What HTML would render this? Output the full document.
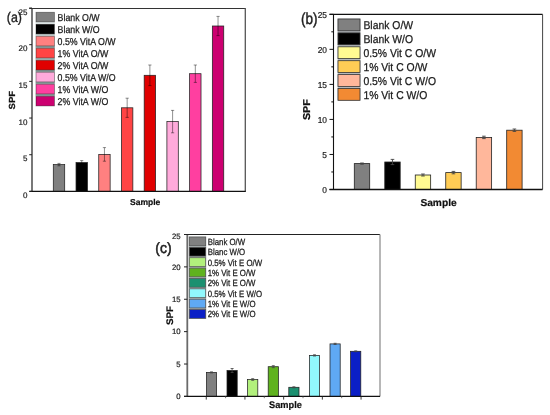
<!DOCTYPE html>
<html><head><meta charset="utf-8"><title>SPF bar charts</title><style>
html,body{margin:0;padding:0;background:#fff;}
svg{display:block;font-family:"Liberation Sans", Arial, sans-serif;text-rendering:geometricPrecision;}
</style></head><body>
<svg width="550" height="415" viewBox="0 0 550 415">
<rect width="550" height="415" fill="#fff"/>
<g id="pa">
<rect x="53.30" y="164.60" width="11.40" height="26.80" fill="#808080" stroke="#222" stroke-width="0.75"/>
<line x1="59.00" y1="163.40" x2="59.00" y2="165.80" stroke="rgba(0,0,0,0.55)" stroke-width="0.8"/>
<line x1="57.40" y1="163.40" x2="60.60" y2="163.40" stroke="rgba(0,0,0,0.55)" stroke-width="0.8"/>
<line x1="57.40" y1="165.80" x2="60.60" y2="165.80" stroke="rgba(0,0,0,0.55)" stroke-width="0.8"/>
<rect x="76.02" y="162.60" width="11.40" height="28.80" fill="#000000" stroke="#222" stroke-width="0.75"/>
<line x1="81.72" y1="160.60" x2="81.72" y2="164.60" stroke="rgba(0,0,0,0.55)" stroke-width="0.8"/>
<line x1="80.12" y1="160.60" x2="83.32" y2="160.60" stroke="rgba(0,0,0,0.55)" stroke-width="0.8"/>
<line x1="80.12" y1="164.60" x2="83.32" y2="164.60" stroke="rgba(0,0,0,0.55)" stroke-width="0.8"/>
<rect x="98.74" y="154.40" width="11.40" height="37.00" fill="#ff8080" stroke="#222" stroke-width="0.75"/>
<line x1="104.44" y1="147.60" x2="104.44" y2="161.20" stroke="rgba(0,0,0,0.55)" stroke-width="0.8"/>
<line x1="102.84" y1="147.60" x2="106.04" y2="147.60" stroke="rgba(0,0,0,0.55)" stroke-width="0.8"/>
<line x1="102.84" y1="161.20" x2="106.04" y2="161.20" stroke="rgba(0,0,0,0.55)" stroke-width="0.8"/>
<rect x="121.46" y="107.80" width="11.40" height="83.60" fill="#ff4444" stroke="#222" stroke-width="0.75"/>
<line x1="127.16" y1="98.20" x2="127.16" y2="117.40" stroke="rgba(0,0,0,0.55)" stroke-width="0.8"/>
<line x1="125.56" y1="98.20" x2="128.76" y2="98.20" stroke="rgba(0,0,0,0.55)" stroke-width="0.8"/>
<line x1="125.56" y1="117.40" x2="128.76" y2="117.40" stroke="rgba(0,0,0,0.55)" stroke-width="0.8"/>
<rect x="144.18" y="75.30" width="11.40" height="116.10" fill="#e00000" stroke="#222" stroke-width="0.75"/>
<line x1="149.88" y1="65.00" x2="149.88" y2="85.60" stroke="rgba(0,0,0,0.55)" stroke-width="0.8"/>
<line x1="148.28" y1="65.00" x2="151.48" y2="65.00" stroke="rgba(0,0,0,0.55)" stroke-width="0.8"/>
<line x1="148.28" y1="85.60" x2="151.48" y2="85.60" stroke="rgba(0,0,0,0.55)" stroke-width="0.8"/>
<rect x="166.90" y="121.60" width="11.40" height="69.80" fill="#ffaadb" stroke="#222" stroke-width="0.75"/>
<line x1="172.60" y1="110.40" x2="172.60" y2="132.80" stroke="rgba(0,0,0,0.55)" stroke-width="0.8"/>
<line x1="171.00" y1="110.40" x2="174.20" y2="110.40" stroke="rgba(0,0,0,0.55)" stroke-width="0.8"/>
<line x1="171.00" y1="132.80" x2="174.20" y2="132.80" stroke="rgba(0,0,0,0.55)" stroke-width="0.8"/>
<rect x="189.62" y="73.70" width="11.40" height="117.70" fill="#ff3fa0" stroke="#222" stroke-width="0.75"/>
<line x1="195.32" y1="65.00" x2="195.32" y2="82.40" stroke="rgba(0,0,0,0.55)" stroke-width="0.8"/>
<line x1="193.72" y1="65.00" x2="196.92" y2="65.00" stroke="rgba(0,0,0,0.55)" stroke-width="0.8"/>
<line x1="193.72" y1="82.40" x2="196.92" y2="82.40" stroke="rgba(0,0,0,0.55)" stroke-width="0.8"/>
<rect x="212.34" y="26.00" width="11.40" height="165.40" fill="#cc0070" stroke="#222" stroke-width="0.75"/>
<line x1="218.04" y1="16.40" x2="218.04" y2="35.60" stroke="rgba(0,0,0,0.55)" stroke-width="0.8"/>
<line x1="216.44" y1="16.40" x2="219.64" y2="16.40" stroke="rgba(0,0,0,0.55)" stroke-width="0.8"/>
<line x1="216.44" y1="35.60" x2="219.64" y2="35.60" stroke="rgba(0,0,0,0.55)" stroke-width="0.8"/>
<rect x="35.60" y="21.70" width="19.20" height="2.40" fill="#e6eeee"/>
<rect x="35.60" y="33.70" width="19.20" height="2.40" fill="#c4d0d0"/>
<rect x="35.60" y="45.70" width="19.20" height="2.40" fill="#8c9c9c"/>
<rect x="35.60" y="57.70" width="19.20" height="2.40" fill="#a4b4b4"/>
<rect x="35.60" y="69.70" width="19.20" height="2.40" fill="#8a9a98"/>
<rect x="35.60" y="81.70" width="19.20" height="2.40" fill="#8c9c9c"/>
<rect x="35.60" y="93.70" width="19.20" height="2.40" fill="#8c9c9c"/>
<rect x="36.00" y="12.30" width="18.40" height="9.60" fill="#808080" stroke="rgba(0,0,0,0.45)" stroke-width="0.8"/>
<text x="57.60" y="20.60" font-size="10.0" fill="#1a1a1a" stroke="#1a1a1a" stroke-width="0.25" textLength="42.05" lengthAdjust="spacingAndGlyphs">Blank O/W</text>
<rect x="36.00" y="24.30" width="18.40" height="9.60" fill="#000000" stroke="rgba(0,0,0,0.45)" stroke-width="0.8"/>
<text x="57.60" y="32.60" font-size="10.0" fill="#1a1a1a" stroke="#1a1a1a" stroke-width="0.25" textLength="42.05" lengthAdjust="spacingAndGlyphs">Blank W/O</text>
<rect x="36.00" y="36.30" width="18.40" height="9.60" fill="#ff8080" stroke="rgba(0,0,0,0.45)" stroke-width="0.8"/>
<text x="57.60" y="44.60" font-size="10.0" fill="#1a1a1a" stroke="#1a1a1a" stroke-width="0.25" textLength="58.04" lengthAdjust="spacingAndGlyphs">0.5% VitA O/W</text>
<rect x="36.00" y="48.30" width="18.40" height="9.60" fill="#ff4444" stroke="rgba(0,0,0,0.45)" stroke-width="0.8"/>
<text x="57.60" y="56.60" font-size="10.0" fill="#1a1a1a" stroke="#1a1a1a" stroke-width="0.25" textLength="50.70" lengthAdjust="spacingAndGlyphs">1% VitA O/W</text>
<rect x="36.00" y="60.30" width="18.40" height="9.60" fill="#e00000" stroke="rgba(0,0,0,0.45)" stroke-width="0.8"/>
<text x="57.60" y="68.60" font-size="10.0" fill="#1a1a1a" stroke="#1a1a1a" stroke-width="0.25" textLength="50.70" lengthAdjust="spacingAndGlyphs">2% VitA O/W</text>
<rect x="36.00" y="72.30" width="18.40" height="9.60" fill="#ffaadb" stroke="rgba(0,0,0,0.45)" stroke-width="0.8"/>
<text x="57.60" y="80.60" font-size="10.0" fill="#1a1a1a" stroke="#1a1a1a" stroke-width="0.25" textLength="58.04" lengthAdjust="spacingAndGlyphs">0.5% VitA W/O</text>
<rect x="36.00" y="84.30" width="18.40" height="9.60" fill="#ff3fa0" stroke="rgba(0,0,0,0.45)" stroke-width="0.8"/>
<text x="57.60" y="92.60" font-size="10.0" fill="#1a1a1a" stroke="#1a1a1a" stroke-width="0.25" textLength="50.70" lengthAdjust="spacingAndGlyphs">1% VitA W/O</text>
<rect x="36.00" y="96.30" width="18.40" height="9.60" fill="#cc0070" stroke="rgba(0,0,0,0.45)" stroke-width="0.8"/>
<text x="57.60" y="104.60" font-size="10.0" fill="#1a1a1a" stroke="#1a1a1a" stroke-width="0.25" textLength="50.70" lengthAdjust="spacingAndGlyphs">2% VitA W/O</text>
<line x1="32.00" y1="8.00" x2="32.00" y2="191.40" stroke="#6a6a6a" stroke-width="1.8"/>
<line x1="29.20" y1="8.50" x2="245.30" y2="8.50" stroke="#333" stroke-width="1.0"/>
<line x1="245.30" y1="8.00" x2="245.30" y2="191.40" stroke="#555" stroke-width="1.3"/>
<line x1="29.50" y1="191.40" x2="245.80" y2="191.40" stroke="#111" stroke-width="1.4"/>
<line x1="29.20" y1="191.40" x2="32.00" y2="191.40" stroke="#222" stroke-width="1"/>
<text x="27.40" y="198.10" font-size="8.0" text-anchor="end" fill="#222" stroke="#222" stroke-width="0.2">0</text>
<line x1="29.20" y1="154.72" x2="32.00" y2="154.72" stroke="#222" stroke-width="1"/>
<text x="27.40" y="161.42" font-size="8.0" text-anchor="end" fill="#222" stroke="#222" stroke-width="0.2">5</text>
<line x1="29.20" y1="118.04" x2="32.00" y2="118.04" stroke="#222" stroke-width="1"/>
<text x="27.40" y="124.74" font-size="8.0" text-anchor="end" fill="#222" stroke="#222" stroke-width="0.2">10</text>
<line x1="29.20" y1="81.36" x2="32.00" y2="81.36" stroke="#222" stroke-width="1"/>
<text x="27.40" y="88.06" font-size="8.0" text-anchor="end" fill="#222" stroke="#222" stroke-width="0.2">15</text>
<line x1="29.20" y1="44.68" x2="32.00" y2="44.68" stroke="#222" stroke-width="1"/>
<text x="27.40" y="51.38" font-size="8.0" text-anchor="end" fill="#222" stroke="#222" stroke-width="0.2">20</text>
<line x1="29.20" y1="8.00" x2="32.00" y2="8.00" stroke="#222" stroke-width="1"/>
<text x="27.40" y="14.70" font-size="8.0" text-anchor="end" fill="#222" stroke="#222" stroke-width="0.2">25</text>
<text x="6.80" y="22.10" font-size="14" fill="#222" stroke="#222" stroke-width="0.35" textLength="15.16" lengthAdjust="spacingAndGlyphs">(a)</text>
<text x="130.00" y="204.70" font-size="8.6" font-weight="bold" fill="#111" stroke="#111" stroke-width="0.2" textLength="30.34" lengthAdjust="spacingAndGlyphs">Sample</text>
<text transform="translate(14.90,100.20) rotate(-90)" font-size="8.8" text-anchor="middle" font-weight="bold" fill="#111" stroke="#111" stroke-width="0.25" textLength="18.48" lengthAdjust="spacingAndGlyphs">SPF</text>
</g>
<g id="pb">
<rect x="354.30" y="163.60" width="15.40" height="25.90" fill="#808080" stroke="#222" stroke-width="0.8"/>
<line x1="362.00" y1="163.00" x2="362.00" y2="164.20" stroke="#444" stroke-width="0.9"/>
<line x1="360.20" y1="163.00" x2="363.80" y2="163.00" stroke="#444" stroke-width="0.9"/>
<line x1="360.20" y1="164.20" x2="363.80" y2="164.20" stroke="#444" stroke-width="0.9"/>
<rect x="384.78" y="162.00" width="15.40" height="27.50" fill="#000000" stroke="#222" stroke-width="0.8"/>
<line x1="392.48" y1="159.40" x2="392.48" y2="164.60" stroke="#444" stroke-width="0.9"/>
<line x1="390.68" y1="159.40" x2="394.28" y2="159.40" stroke="#444" stroke-width="0.9"/>
<line x1="390.68" y1="164.60" x2="394.28" y2="164.60" stroke="#444" stroke-width="0.9"/>
<rect x="415.26" y="175.00" width="15.40" height="14.50" fill="#fffa92" stroke="#222" stroke-width="0.8"/>
<line x1="422.96" y1="174.00" x2="422.96" y2="176.00" stroke="#444" stroke-width="0.9"/>
<line x1="421.16" y1="174.00" x2="424.76" y2="174.00" stroke="#444" stroke-width="0.9"/>
<line x1="421.16" y1="176.00" x2="424.76" y2="176.00" stroke="#444" stroke-width="0.9"/>
<rect x="445.74" y="172.60" width="15.40" height="16.90" fill="#ffcc55" stroke="#222" stroke-width="0.8"/>
<line x1="453.44" y1="171.40" x2="453.44" y2="173.80" stroke="#444" stroke-width="0.9"/>
<line x1="451.64" y1="171.40" x2="455.24" y2="171.40" stroke="#444" stroke-width="0.9"/>
<line x1="451.64" y1="173.80" x2="455.24" y2="173.80" stroke="#444" stroke-width="0.9"/>
<rect x="476.22" y="137.40" width="15.40" height="52.10" fill="#ffb79b" stroke="#222" stroke-width="0.8"/>
<line x1="483.92" y1="136.20" x2="483.92" y2="138.60" stroke="#444" stroke-width="0.9"/>
<line x1="482.12" y1="136.20" x2="485.72" y2="136.20" stroke="#444" stroke-width="0.9"/>
<line x1="482.12" y1="138.60" x2="485.72" y2="138.60" stroke="#444" stroke-width="0.9"/>
<rect x="506.70" y="130.20" width="15.40" height="59.30" fill="#f28a33" stroke="#222" stroke-width="0.8"/>
<line x1="514.40" y1="129.00" x2="514.40" y2="131.40" stroke="#444" stroke-width="0.9"/>
<line x1="512.60" y1="129.00" x2="516.20" y2="129.00" stroke="#444" stroke-width="0.9"/>
<line x1="512.60" y1="131.40" x2="516.20" y2="131.40" stroke="#444" stroke-width="0.9"/>
<rect x="337.60" y="18.60" width="22.80" height="81.70" fill="#b4b8bc"/>
<rect x="338.00" y="19.00" width="22.00" height="11.80" fill="#808080" stroke="#333" stroke-width="0.8"/>
<text x="363.40" y="29.00" font-size="11.4" fill="#1a1a1a" stroke="#1a1a1a" stroke-width="0.25" textLength="49.70" lengthAdjust="spacingAndGlyphs">Blank O/W</text>
<rect x="338.00" y="32.90" width="22.00" height="11.80" fill="#000000" stroke="#333" stroke-width="0.8"/>
<text x="363.40" y="42.90" font-size="11.4" fill="#1a1a1a" stroke="#1a1a1a" stroke-width="0.25" textLength="49.70" lengthAdjust="spacingAndGlyphs">Blank W/O</text>
<rect x="338.00" y="46.80" width="22.00" height="11.80" fill="#fffa92" stroke="#333" stroke-width="0.8"/>
<text x="363.40" y="56.80" font-size="11.4" fill="#1a1a1a" stroke="#1a1a1a" stroke-width="0.25" textLength="72.63" lengthAdjust="spacingAndGlyphs">0.5% Vit C O/W</text>
<rect x="338.00" y="60.70" width="22.00" height="11.80" fill="#ffcc55" stroke="#333" stroke-width="0.8"/>
<text x="363.40" y="70.70" font-size="11.4" fill="#1a1a1a" stroke="#1a1a1a" stroke-width="0.25" textLength="63.95" lengthAdjust="spacingAndGlyphs">1% Vit C O/W</text>
<rect x="338.00" y="74.60" width="22.00" height="11.80" fill="#ffb79b" stroke="#333" stroke-width="0.8"/>
<text x="363.40" y="84.60" font-size="11.4" fill="#1a1a1a" stroke="#1a1a1a" stroke-width="0.25" textLength="72.63" lengthAdjust="spacingAndGlyphs">0.5% Vit C W/O</text>
<rect x="338.00" y="88.50" width="22.00" height="11.80" fill="#f28a33" stroke="#333" stroke-width="0.8"/>
<text x="363.40" y="98.50" font-size="11.4" fill="#1a1a1a" stroke="#1a1a1a" stroke-width="0.25" textLength="63.95" lengthAdjust="spacingAndGlyphs">1% Vit C W/O</text>
<line x1="333.50" y1="14.30" x2="333.50" y2="189.50" stroke="#111" stroke-width="1.1"/>
<line x1="329.50" y1="14.30" x2="542.60" y2="14.30" stroke="#111" stroke-width="1.3"/>
<line x1="542.60" y1="14.30" x2="542.60" y2="189.50" stroke="#444" stroke-width="1.0"/>
<line x1="329.50" y1="189.50" x2="542.60" y2="189.50" stroke="#111" stroke-width="1.3"/>
<line x1="329.50" y1="189.50" x2="333.50" y2="189.50" stroke="#111" stroke-width="1"/>
<text x="327.00" y="192.80" font-size="8.6" text-anchor="end" fill="#222" stroke="#222" stroke-width="0.2" textLength="4.67" lengthAdjust="spacingAndGlyphs">0</text>
<line x1="331.30" y1="171.98" x2="333.50" y2="171.98" stroke="#111" stroke-width="1"/>
<line x1="329.50" y1="154.46" x2="333.50" y2="154.46" stroke="#111" stroke-width="1"/>
<text x="327.00" y="157.76" font-size="8.6" text-anchor="end" fill="#222" stroke="#222" stroke-width="0.2" textLength="4.67" lengthAdjust="spacingAndGlyphs">5</text>
<line x1="331.30" y1="136.94" x2="333.50" y2="136.94" stroke="#111" stroke-width="1"/>
<line x1="329.50" y1="119.42" x2="333.50" y2="119.42" stroke="#111" stroke-width="1"/>
<text x="327.00" y="122.72" font-size="8.6" text-anchor="end" fill="#222" stroke="#222" stroke-width="0.2" textLength="9.34" lengthAdjust="spacingAndGlyphs">10</text>
<line x1="331.30" y1="101.90" x2="333.50" y2="101.90" stroke="#111" stroke-width="1"/>
<line x1="329.50" y1="84.38" x2="333.50" y2="84.38" stroke="#111" stroke-width="1"/>
<text x="327.00" y="87.68" font-size="8.6" text-anchor="end" fill="#222" stroke="#222" stroke-width="0.2" textLength="9.34" lengthAdjust="spacingAndGlyphs">15</text>
<line x1="331.30" y1="66.86" x2="333.50" y2="66.86" stroke="#111" stroke-width="1"/>
<line x1="329.50" y1="49.34" x2="333.50" y2="49.34" stroke="#111" stroke-width="1"/>
<text x="327.00" y="52.64" font-size="8.6" text-anchor="end" fill="#222" stroke="#222" stroke-width="0.2" textLength="9.34" lengthAdjust="spacingAndGlyphs">20</text>
<line x1="331.30" y1="31.82" x2="333.50" y2="31.82" stroke="#111" stroke-width="1"/>
<line x1="329.50" y1="14.30" x2="333.50" y2="14.30" stroke="#111" stroke-width="1"/>
<text x="327.00" y="17.60" font-size="8.6" text-anchor="end" fill="#222" stroke="#222" stroke-width="0.2" textLength="9.34" lengthAdjust="spacingAndGlyphs">25</text>
<text x="301.00" y="24.00" font-size="16" fill="#222" stroke="#222" stroke-width="0.45" textLength="16.50" lengthAdjust="spacingAndGlyphs">(b)</text>
<text x="420.40" y="206.40" font-size="10" font-weight="bold" fill="#111" stroke="#111" stroke-width="0.2" textLength="36.25" lengthAdjust="spacingAndGlyphs">Sample</text>
<text transform="translate(309.90,109.70) rotate(-90)" font-size="10" text-anchor="middle" font-weight="bold" fill="#111" stroke="#111" stroke-width="0.25" textLength="20.81" lengthAdjust="spacingAndGlyphs">SPF</text>
</g>
<g id="pc">
<rect x="206.40" y="372.40" width="10.20" height="24.00" fill="#808080" stroke="#222" stroke-width="0.75"/>
<line x1="211.50" y1="371.90" x2="211.50" y2="372.90" stroke="#444" stroke-width="0.8"/>
<line x1="210.00" y1="371.90" x2="213.00" y2="371.90" stroke="#444" stroke-width="0.8"/>
<line x1="210.00" y1="372.90" x2="213.00" y2="372.90" stroke="#444" stroke-width="0.8"/>
<rect x="227.00" y="370.50" width="10.20" height="25.90" fill="#000000" stroke="#222" stroke-width="0.75"/>
<line x1="232.10" y1="368.50" x2="232.10" y2="372.50" stroke="#444" stroke-width="0.8"/>
<line x1="230.60" y1="368.50" x2="233.60" y2="368.50" stroke="#444" stroke-width="0.8"/>
<line x1="230.60" y1="372.50" x2="233.60" y2="372.50" stroke="#444" stroke-width="0.8"/>
<rect x="247.60" y="379.50" width="10.20" height="16.90" fill="#b2f07c" stroke="#222" stroke-width="0.75"/>
<line x1="252.70" y1="378.70" x2="252.70" y2="380.30" stroke="#444" stroke-width="0.8"/>
<line x1="251.20" y1="378.70" x2="254.20" y2="378.70" stroke="#444" stroke-width="0.8"/>
<line x1="251.20" y1="380.30" x2="254.20" y2="380.30" stroke="#444" stroke-width="0.8"/>
<rect x="268.20" y="366.70" width="10.20" height="29.70" fill="#5fb21e" stroke="#222" stroke-width="0.75"/>
<line x1="273.30" y1="365.70" x2="273.30" y2="367.70" stroke="#444" stroke-width="0.8"/>
<line x1="271.80" y1="365.70" x2="274.80" y2="365.70" stroke="#444" stroke-width="0.8"/>
<line x1="271.80" y1="367.70" x2="274.80" y2="367.70" stroke="#444" stroke-width="0.8"/>
<rect x="288.80" y="387.30" width="10.20" height="9.10" fill="#1b9070" stroke="#222" stroke-width="0.75"/>
<line x1="293.90" y1="386.80" x2="293.90" y2="387.80" stroke="#444" stroke-width="0.8"/>
<line x1="292.40" y1="386.80" x2="295.40" y2="386.80" stroke="#444" stroke-width="0.8"/>
<line x1="292.40" y1="387.80" x2="295.40" y2="387.80" stroke="#444" stroke-width="0.8"/>
<rect x="309.40" y="355.40" width="10.20" height="41.00" fill="#91f8fc" stroke="#222" stroke-width="0.75"/>
<line x1="314.50" y1="354.80" x2="314.50" y2="356.00" stroke="#444" stroke-width="0.8"/>
<line x1="313.00" y1="354.80" x2="316.00" y2="354.80" stroke="#444" stroke-width="0.8"/>
<line x1="313.00" y1="356.00" x2="316.00" y2="356.00" stroke="#444" stroke-width="0.8"/>
<rect x="330.00" y="343.90" width="10.20" height="52.50" fill="#5fa9f4" stroke="#222" stroke-width="0.75"/>
<line x1="335.10" y1="343.30" x2="335.10" y2="344.50" stroke="#444" stroke-width="0.8"/>
<line x1="333.60" y1="343.30" x2="336.60" y2="343.30" stroke="#444" stroke-width="0.8"/>
<line x1="333.60" y1="344.50" x2="336.60" y2="344.50" stroke="#444" stroke-width="0.8"/>
<rect x="350.60" y="351.30" width="10.20" height="45.10" fill="#0b1fc6" stroke="#222" stroke-width="0.75"/>
<line x1="355.70" y1="350.90" x2="355.70" y2="351.70" stroke="#444" stroke-width="0.8"/>
<line x1="354.20" y1="350.90" x2="357.20" y2="350.90" stroke="#444" stroke-width="0.8"/>
<line x1="354.20" y1="351.70" x2="357.20" y2="351.70" stroke="#444" stroke-width="0.8"/>
<rect x="188.80" y="236.60" width="17.40" height="82.36" fill="#a4acac"/>
<rect x="189.30" y="237.00" width="16.40" height="8.70" fill="#808080" stroke="#555" stroke-width="0.7"/>
<text x="207.70" y="244.90" font-size="9.0" fill="#1a1a1a" stroke="#1a1a1a" stroke-width="0.25" textLength="37.51" lengthAdjust="spacingAndGlyphs">Blank O/W</text>
<rect x="189.30" y="247.37" width="16.40" height="8.70" fill="#000000" stroke="#555" stroke-width="0.7"/>
<text x="207.70" y="255.27" font-size="9.0" fill="#1a1a1a" stroke="#1a1a1a" stroke-width="0.25" textLength="37.51" lengthAdjust="spacingAndGlyphs">Blanc W/O</text>
<rect x="189.30" y="257.74" width="16.40" height="8.70" fill="#b2f07c" stroke="#555" stroke-width="0.7"/>
<text x="207.70" y="265.64" font-size="9.0" fill="#1a1a1a" stroke="#1a1a1a" stroke-width="0.25" textLength="54.39" lengthAdjust="spacingAndGlyphs">0.5% Vit E O/W</text>
<rect x="189.30" y="268.11" width="16.40" height="8.70" fill="#5fb21e" stroke="#555" stroke-width="0.7"/>
<text x="207.70" y="276.01" font-size="9.0" fill="#1a1a1a" stroke="#1a1a1a" stroke-width="0.25" textLength="47.84" lengthAdjust="spacingAndGlyphs">1% Vit E O/W</text>
<rect x="189.30" y="278.48" width="16.40" height="8.70" fill="#1b9070" stroke="#555" stroke-width="0.7"/>
<text x="207.70" y="286.38" font-size="9.0" fill="#1a1a1a" stroke="#1a1a1a" stroke-width="0.25" textLength="47.84" lengthAdjust="spacingAndGlyphs">2% Vit E O/W</text>
<rect x="189.30" y="288.85" width="16.40" height="8.70" fill="#91f8fc" stroke="#555" stroke-width="0.7"/>
<text x="207.70" y="296.75" font-size="9.0" fill="#1a1a1a" stroke="#1a1a1a" stroke-width="0.25" textLength="54.39" lengthAdjust="spacingAndGlyphs">0.5% Vit E W/O</text>
<rect x="189.30" y="299.22" width="16.40" height="8.70" fill="#5fa9f4" stroke="#555" stroke-width="0.7"/>
<text x="207.70" y="307.12" font-size="9.0" fill="#1a1a1a" stroke="#1a1a1a" stroke-width="0.25" textLength="47.84" lengthAdjust="spacingAndGlyphs">1% Vit E W/O</text>
<rect x="189.30" y="309.59" width="16.40" height="8.70" fill="#0b1fc6" stroke="#555" stroke-width="0.7"/>
<text x="207.70" y="317.49" font-size="9.0" fill="#1a1a1a" stroke="#1a1a1a" stroke-width="0.25" textLength="47.84" lengthAdjust="spacingAndGlyphs">2% Vit E W/O</text>
<line x1="187.30" y1="234.50" x2="187.30" y2="396.40" stroke="#6a6a6a" stroke-width="1.8"/>
<line x1="184.00" y1="234.50" x2="380.00" y2="234.50" stroke="#222" stroke-width="1.2"/>
<line x1="380.00" y1="234.50" x2="380.00" y2="396.40" stroke="#999" stroke-width="1.4"/>
<line x1="184.00" y1="396.40" x2="380.00" y2="396.40" stroke="#111" stroke-width="1.3"/>
<line x1="184.00" y1="396.40" x2="187.30" y2="396.40" stroke="#222" stroke-width="1"/>
<text x="180.60" y="399.10" font-size="7.8" text-anchor="end" fill="#222" stroke="#222" stroke-width="0.2">0</text>
<line x1="184.00" y1="364.02" x2="187.30" y2="364.02" stroke="#222" stroke-width="1"/>
<text x="180.60" y="366.72" font-size="7.8" text-anchor="end" fill="#222" stroke="#222" stroke-width="0.2">5</text>
<line x1="184.00" y1="331.64" x2="187.30" y2="331.64" stroke="#222" stroke-width="1"/>
<text x="180.60" y="334.34" font-size="7.8" text-anchor="end" fill="#222" stroke="#222" stroke-width="0.2">10</text>
<line x1="184.00" y1="299.26" x2="187.30" y2="299.26" stroke="#222" stroke-width="1"/>
<text x="180.60" y="301.96" font-size="7.8" text-anchor="end" fill="#222" stroke="#222" stroke-width="0.2">15</text>
<line x1="184.00" y1="266.88" x2="187.30" y2="266.88" stroke="#222" stroke-width="1"/>
<text x="180.60" y="269.58" font-size="7.8" text-anchor="end" fill="#222" stroke="#222" stroke-width="0.2">20</text>
<line x1="184.00" y1="234.50" x2="187.30" y2="234.50" stroke="#222" stroke-width="1"/>
<text x="180.60" y="239.40" font-size="7.8" text-anchor="end" fill="#222" stroke="#222" stroke-width="0.2">25</text>
<line x1="206.25" y1="396.40" x2="206.25" y2="399.60" stroke="#222" stroke-width="0.9"/>
<line x1="225.60" y1="396.40" x2="225.60" y2="398.20" stroke="#555" stroke-width="0.8"/>
<line x1="244.95" y1="396.40" x2="244.95" y2="399.60" stroke="#222" stroke-width="0.9"/>
<line x1="264.30" y1="396.40" x2="264.30" y2="398.20" stroke="#555" stroke-width="0.8"/>
<line x1="283.65" y1="396.40" x2="283.65" y2="399.60" stroke="#222" stroke-width="0.9"/>
<line x1="303.00" y1="396.40" x2="303.00" y2="398.20" stroke="#555" stroke-width="0.8"/>
<line x1="322.35" y1="396.40" x2="322.35" y2="399.60" stroke="#222" stroke-width="0.9"/>
<line x1="341.70" y1="396.40" x2="341.70" y2="398.20" stroke="#555" stroke-width="0.8"/>
<line x1="361.05" y1="396.40" x2="361.05" y2="399.60" stroke="#222" stroke-width="0.9"/>
<text x="155.30" y="253.30" font-size="15" fill="#222" stroke="#222" stroke-width="0.5" textLength="16.32" lengthAdjust="spacingAndGlyphs">(c)</text>
<text x="269.00" y="407.90" font-size="9.5" font-weight="bold" fill="#111" stroke="#111" stroke-width="0.2" textLength="32.87" lengthAdjust="spacingAndGlyphs">Sample</text>
<text transform="translate(172.80,315.50) rotate(-90)" font-size="9.5" text-anchor="middle" font-weight="bold" fill="#111" stroke="#111" stroke-width="0.2" textLength="19.06" lengthAdjust="spacingAndGlyphs">SPF</text>
</g>
</svg>
</body></html>
